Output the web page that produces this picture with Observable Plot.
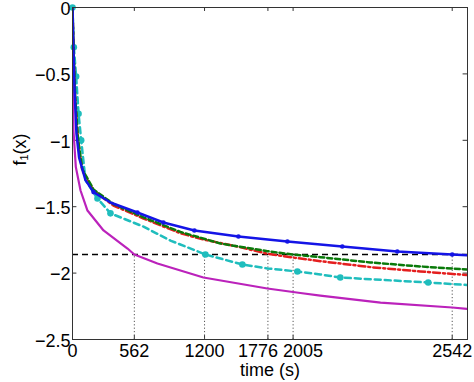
<!DOCTYPE html>
<html>
<head>
<meta charset="utf-8">
<script src="https://cdn.jsdelivr.net/npm/d3@7"></script>
<script src="https://cdn.jsdelivr.net/npm/@observablehq/plot@0.6"></script>
<style>
  html, body { margin: 0; padding: 0; background: #fff; }
  #chart svg { display: block; }
</style>
</head>
<body>
<div id="chart"></div>
<script>
// ---- data ----
const xTicks = [0, 562, 1200, 1776, 2005, 3451];
const xTickLabels = ["0", "562", "1200", "1776", "2005", "2542"];
const yTicks = [0, -0.5, -1, -1.5, -2, -2.5];
const xMax = 3590;
const threshold = -1.86;
const crossTimes = [562, 1200, 1776, 2005, 3451];

const blueT = [0, 8, 18, 36, 60, 118, 191, 350, 590, 826, 1108, 1508, 1953, 2452, 2952, 3451, 3590];
const blueV = [0, -0.3, -0.6, -0.95, -1.13, -1.3, -1.39, -1.47, -1.544, -1.619, -1.679, -1.724, -1.762, -1.80, -1.837, -1.86, -1.865];
const blueMarkIdx = [6, 8, 9, 10, 11, 12, 13, 14, 15];

const magentaT = [0, 3, 9, 30, 73, 136, 282, 500, 562, 772, 1190, 1771, 2071, 2252, 2800, 3451, 3590];
const magentaV = [0, -0.4, -0.93, -1.2, -1.378, -1.529, -1.679, -1.815, -1.86, -1.928, -2.033, -2.116, -2.15, -2.17, -2.222, -2.259, -2.27];

const redT = [0, 10, 25, 50, 88, 191, 372, 645, 981, 1190, 1499, 1776, 2007, 2252, 2707, 3161, 3590];
const redV = [0, -0.35, -0.7, -1.0, -1.227, -1.378, -1.491, -1.589, -1.70, -1.747, -1.80, -1.855, -1.883, -1.91, -1.955, -1.988, -2.015];

const greenT = [0, 10, 25, 50, 90, 191, 372, 645, 981, 1344, 1771, 2005, 2252, 2707, 3161, 3590];
const greenV = [0, -0.33, -0.68, -0.99, -1.22, -1.37, -1.48, -1.58, -1.69, -1.777, -1.835, -1.86, -1.88, -1.92, -1.95, -1.973];

const cyanT = [0, 12, 33, 55, 79, 118, 227, 345, 645, 890, 1208, 1544, 1771, 2044, 2252, 2434, 3233, 3590];
const cyanV = [0, -0.3, -0.52, -0.8, -1.0, -1.30, -1.438, -1.55, -1.65, -1.755, -1.86, -1.935, -1.965, -1.988, -2.01, -2.033, -2.071, -2.09];
const cyanMarkIdx = [0, 1, 2, 3, 4, 6, 7, 10, 11, 13, 15, 16];

// ---- build tables ----
const toRows = (T, V) => T.map((t, i) => ({t, v: V[i]}));
const blue = toRows(blueT, blueV);
const magenta = toRows(magentaT, magentaV);
const red = toRows(redT, redV);
const green = toRows(greenT, greenV);
const cyan = toRows(cyanT, cyanV);
const blueMarks = blueMarkIdx.map(i => blue[i]);
const cyanMarks = cyanMarkIdx.map(i => cyan[i]);

const fmtY = d => (d < 0 ? "\u2212" : "") + Math.abs(d);
const fmtX = d => xTickLabels[xTicks.indexOf(d)];
const font = "'Liberation Sans', Arial, Helvetica, sans-serif";
const tickLenX = 40;   // time units (~4px)
const tickLenY = 0.03; // value units (~4px)

// labels that MATLAB nudged apart to avoid collision
const xTicksMain = [xTicks[0], xTicks[1], xTicks[2], xTicks[5]];
const xTickLeft = [xTicks[3]];
const xTickRight = [xTicks[4]];

const chart = Plot.plot({
  width: 474,
  height: 382,
  marginLeft: 72,
  marginRight: 7,
  marginTop: 7,
  marginBottom: 43,
  style: {fontFamily: font, fontSize: "18px", color: "#000", background: "#fff", overflow: "visible"},
  x: {domain: [0, xMax]},
  y: {domain: [-2.5, 0]},
  marks: [
    // inward ticks on all four sides
    Plot.ruleX(xTicks, {x: d => d, y1: -2.5, y2: -2.5 + tickLenY, stroke: "#333"}),
    Plot.ruleX(xTicks, {x: d => d, y1: 0, y2: -tickLenY, stroke: "#333"}),
    Plot.ruleY(yTicks, {y: d => d, x1: 0, x2: tickLenX, stroke: "#333"}),
    Plot.ruleY(yTicks, {y: d => d, x1: xMax, x2: xMax - tickLenX, stroke: "#333"}),
    // dotted verticals to the threshold
    Plot.ruleX(crossTimes, {x: d => d, y1: -2.5, y2: threshold, stroke: "#555", strokeWidth: 1, strokeDasharray: "1.2,2.2"}),
    // threshold dashed line
    Plot.ruleY([threshold], {x1: 0, x2: xMax, stroke: "#000", strokeWidth: 1.5, strokeDasharray: "6,4"}),
    // curves
    Plot.line(magenta, {x: "t", y: "v", stroke: "#bb22bb", strokeWidth: 2.2, clip: true}),
    Plot.line(cyan, {x: "t", y: "v", stroke: "#1fbdbd", strokeWidth: 2.5, strokeDasharray: "6,4", clip: true}),
    Plot.dot(cyanMarks, {x: "t", y: "v", r: 3.3, fill: "#1fbdbd", stroke: "none"}),
    Plot.line(red, {x: "t", y: "v", stroke: "#e41e1e", strokeWidth: 2.5, strokeDasharray: "7,3,2,3", clip: true}),
    Plot.line(green, {x: "t", y: "v", stroke: "#0a7a0a", strokeWidth: 2.5, strokeDasharray: "5,3", clip: true}),
    Plot.line(blue, {x: "t", y: "v", stroke: "#1414e6", strokeWidth: 2.5, clip: true}),
    Plot.dot(blueMarks, {x: "t", y: "v", r: 2.3, fill: "#1414e6", stroke: "none"}),
    Plot.frame({stroke: "#333", strokeWidth: 1}),
    // tick labels
    Plot.axisX({ticks: xTicksMain, tickFormat: fmtX, tickSize: 0, tickPadding: 5, label: null}),
    Plot.axisX({ticks: xTickLeft, tickFormat: fmtX, tickSize: 0, tickPadding: 5, dx: -10, label: null}),
    Plot.axisX({ticks: xTickRight, tickFormat: fmtX, tickSize: 0, tickPadding: 5, dx: 10, label: null}),
    Plot.axisY({ticks: yTicks, tickFormat: fmtY, tickSize: 0, tickPadding: 2, dy: 1.5, label: null}),
    // axis titles
    Plot.text(["time (s)"], {frameAnchor: "bottom", dy: 36, text: d => d, fontSize: 18}),
    Plot.text(["f\u2081(x)"], {frameAnchor: "left", dx: -52, dy: -8, rotate: -90, text: d => d, fontSize: 18})
  ]
});
document.getElementById("chart").appendChild(chart);
</script>
</body>
</html>
